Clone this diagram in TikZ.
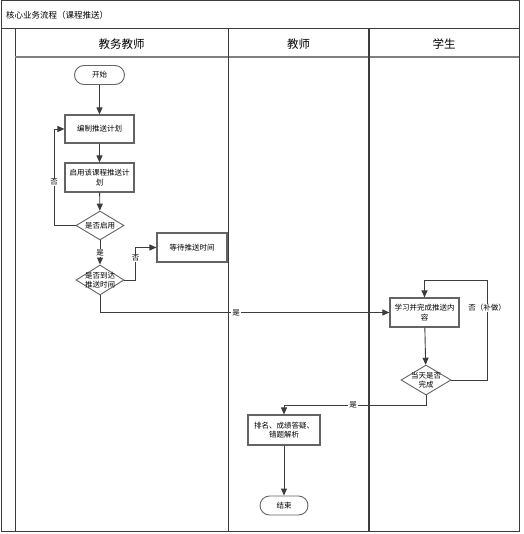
\documentclass[tikz,border=0pt]{standalone}
\usepackage{fontspec}
\setmainfont{Noto Sans CJK SC}
\usetikzlibrary{shapes.geometric,arrows.meta}
\definecolor{ln}{RGB}{60,60,60}
\definecolor{bd}{RGB}{100,100,100}
\begin{document}
\begin{tikzpicture}[x=1pt,y=-1pt,
  frameline/.style={draw=ln,line width=1pt},
  procbox/.style={draw=bd,line width=1.1pt,fill=white,rectangle,inner sep=1pt,align=center,font=\fontsize{7.5}{9.5}\selectfont},
  termbox/.style={draw=bd,line width=0.9pt,fill=white,rounded corners=9.5pt,inner sep=0pt,font=\fontsize{7.5}{9}\selectfont},
  decbox/.style={draw=bd,line width=0.9pt,fill=white,diamond,inner sep=0pt},
  dectext/.style={align=center,inner sep=0pt,font=\fontsize{7.5}{9.5}\selectfont},
  conn/.style={draw=ln,line width=0.9pt},
  arr/.style={conn,-{Triangle[length=7pt,width=6pt]}},
  lbl/.style={fill=white,inner sep=0.8pt,font=\fontsize{7.5}{8}\selectfont},
  hdr/.style={font=\fontsize{11.5}{13}\selectfont}
]
\useasboundingbox (0,0) rectangle (523,534);
% frame
\draw[frameline] (1,1) rectangle (519,531);
\draw[frameline] (1,29) -- (519,29);
\draw[draw=ln,line width=0.9pt] (15,29) -- (15,531);
\draw[draw=black!50,line width=2pt] (15,57) -- (519,57);
\draw[draw=ln,line width=0.9pt] (228,29) -- (228,531);
\draw[draw=ln,line width=1.5pt] (369,29) -- (369,531);
\draw[frameline] (1,531) -- (519,531);
\node[anchor=west,font=\fontsize{8.5}{10}\selectfont,inner sep=0pt] (title) at (6,15) {核心业务流程（课程推送）};
\node[hdr] (h1) at (121.5,44) {教务教师};
\node[hdr] (h2) at (298.5,44) {教师};
\node[hdr] (h3) at (444,44) {学生};
% nodes
\node[termbox,minimum width=50pt,minimum height=19pt] (start) at (99.5,75) {开始};
\node[procbox,minimum width=69pt,minimum height=28pt] (plan) at (99.5,129) {编制推送计划};
\node[procbox,minimum width=69pt,minimum height=29pt] (enable) at (99.5,177.5) {启用该课程推送计\\划};
\node[decbox,minimum width=48pt,minimum height=29pt] (d1) at (100,225.5) {};
\node[dectext] (d1t) at (d1) {是否启用};
\node[decbox,minimum width=48pt,minimum height=30pt] (d2) at (100,280) {};
\node[dectext] (d2t) at (d2) {是否到达\\推送时间};
\node[procbox,minimum width=70pt,minimum height=29pt] (wait) at (192,247.5) {等待推送时间};
\node[procbox,minimum width=69pt,minimum height=29pt] (study) at (424.5,312.5) {学习并完成推送内\\容};
\node[decbox,minimum width=50pt,minimum height=30pt] (d3) at (426,380) {};
\node[dectext] (d3t) at (d3) {当天是否\\完成};
\node[procbox,minimum width=72pt,minimum height=30pt] (rank) at (284,430) {排名、成绩答疑、\\错题解析};
\node[termbox,minimum width=48pt,minimum height=19pt] (end) at (284,505.5) {结束};
% connectors
\coordinate (c1) at (54,225.5);
\coordinate (c2) at (135.5,280);
\coordinate (c3) at (100,312.5);
\coordinate (c4) at (487,380);
\coordinate (c5) at (487,280);
\coordinate (c6) at (426,405);
\draw[arr] (start) -- (plan);
\draw[arr] (plan) -- (enable);
\draw[arr] (enable) -- (d1);
\draw[arr] (d1.west) -- (c1) |- (plan.west);
\draw[arr] (d1.south) -- (d2.north);
\draw[arr] (d2.east) -- (c2) |- (wait.west);
\draw[arr] (d2.south) -- (c3) -- (study.west);
\draw[arr] (study) -- (d3);
\draw[arr] (d3.east) -- (c4) -- (c5) -| (study.north);
\draw[arr] (d3.south) -- (c6) -| (rank.north);
\draw[arr] (rank) -- (end);
% labels
\node[lbl] (l1) at (54,182) {否};
\node[lbl] (l2) at (100,253) {是};
\node[lbl] (l3) at (135.5,258) {否};
\node[lbl] (l4) at (236,312.5) {是};
\node[lbl] (l5) at (487,308) {否（补做）};
\node[lbl] (l6) at (353,405) {是};
\end{tikzpicture}
\end{document}
